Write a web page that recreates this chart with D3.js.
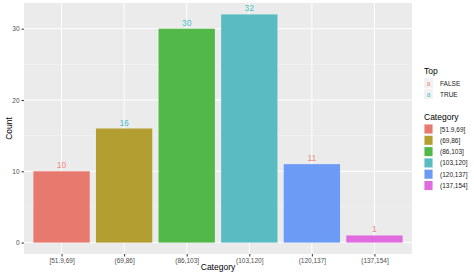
<!DOCTYPE html>
<html>
<head>
<meta charset="utf-8">
<script src="https://cdn.jsdelivr.net/npm/d3@7"></script>
<style>
  body { margin: 0; background: #fff; }
  text { font-family: "Liberation Sans", Arial, sans-serif; }
</style>
</head>
<body>
<div class="chart"></div>
<script>
// chart data
var categories = ["[51.9,69]", "(69,86]", "(86,103]", "(103,120]", "(120,137]", "(137,154]"];
var counts = [10, 16, 30, 32, 11, 1];
var topFlags = [false, true, true, true, false, false];
var yTicks = [0, 10, 20, 30];

var fillColors = ["#E8796F", "#B39E31", "#53B84A", "#58BCC2", "#6B9BF5", "#E06BDF"];
var topColors = { "FALSE": "#F08A82", "TRUE": "#4DBFC6" };

var svgWidth = 474, svgHeight = 274;
var margin = { top: 3, right: 62, bottom: 20, left: 24 };
var width = svgWidth - margin.left - margin.right;
var height = svgHeight - margin.top - margin.bottom;

var svg = d3.select(".chart").append("svg")
  .attr("width", svgWidth)
  .attr("height", svgHeight);

var chartGroup = svg.append("g")
  .attr("transform", `translate(${margin.left}, ${margin.top})`);

// ggplot-style discrete scale: 0.6 units padding each side
var n = categories.length;
var xLinear = d3.scaleLinear().domain([0.4, n + 0.6]).range([0, width]);
var xPos = function (i) { return xLinear(i + 1); };
var step = xLinear(2) - xLinear(1);

var yMax = d3.max(counts);
var yScale = d3.scaleLinear()
  .domain([-0.05 * yMax, yMax * 1.05])
  .range([height, 0]);

// panel background
chartGroup.append("rect")
  .attr("width", width)
  .attr("height", height)
  .attr("fill", "#EBEBEB");

// minor gridlines
[5, 15, 25].forEach(function (v) {
  chartGroup.append("line")
    .attr("x1", 0).attr("x2", width)
    .attr("y1", yScale(v)).attr("y2", yScale(v))
    .attr("stroke", "#F7F7F7").attr("stroke-width", 0.5);
});

// major gridlines
yTicks.forEach(function (v) {
  chartGroup.append("line")
    .attr("x1", 0).attr("x2", width)
    .attr("y1", yScale(v)).attr("y2", yScale(v))
    .attr("stroke", "#fff").attr("stroke-width", 1);
});
categories.forEach(function (c, i) {
  chartGroup.append("line")
    .attr("x1", xPos(i)).attr("x2", xPos(i))
    .attr("y1", 0).attr("y2", height)
    .attr("stroke", "#fff").attr("stroke-width", 1);
});

// bars
var barData = categories.map(function (c, i) {
  return { cat: c, count: counts[i], top: topFlags[i], color: fillColors[i], i: i };
});

chartGroup.selectAll(".bar")
  .data(barData)
  .enter()
  .append("rect")
  .attr("class", "bar")
  .attr("x", d => xPos(d.i) - step * 0.45)
  .attr("width", step * 0.9)
  .attr("y", d => yScale(d.count))
  .attr("height", d => yScale(0) - yScale(d.count))
  .attr("fill", d => d.color);

// value labels
chartGroup.selectAll(".lbl")
  .data(barData)
  .enter()
  .append("text")
  .attr("class", "lbl")
  .attr("x", d => xPos(d.i))
  .attr("y", d => yScale(d.count) - 3)
  .attr("text-anchor", "middle")
  .attr("font-size", "8.5px")
  .attr("fill", d => d.top ? topColors.TRUE : topColors.FALSE)
  .text(d => d.count);

// axes
var leftAxis = d3.axisLeft(yScale).tickValues(yTicks).tickSize(2.5).tickPadding(2);
var yAxisG = chartGroup.append("g").call(leftAxis);
yAxisG.select(".domain").remove();
yAxisG.selectAll("line").attr("stroke", "#333");
yAxisG.selectAll("text").attr("fill", "#4D4D4D").attr("font-size", "6.5px");

var bottomAxis = d3.axisBottom(xLinear)
  .tickValues(d3.range(1, n + 1))
  .tickFormat(d => categories[d - 1])
  .tickSize(2.5).tickPadding(2);
var xAxisG = chartGroup.append("g")
  .attr("transform", `translate(0, ${height})`)
  .call(bottomAxis);
xAxisG.select(".domain").remove();
xAxisG.selectAll("line").attr("stroke", "#333");
xAxisG.selectAll("text").attr("fill", "#4D4D4D").attr("font-size", "6.5px");

// axis titles
svg.append("text")
  .attr("x", margin.left + width / 2)
  .attr("y", 270)
  .attr("text-anchor", "middle")
  .attr("font-size", "8.5px")
  .attr("fill", "#000")
  .text("Category");

svg.append("text")
  .attr("transform", `translate(12, ${margin.top + height / 2}) rotate(-90)`)
  .attr("text-anchor", "middle")
  .attr("font-size", "8.5px")
  .attr("fill", "#000")
  .text("Count");

// legend: Top
var legX = 424;
var legend = svg.append("g");
legend.append("text")
  .attr("x", legX).attr("y", 74)
  .attr("font-size", "8.5px").attr("fill", "#000")
  .text("Top");

["FALSE", "TRUE"].forEach(function (k, i) {
  var y = 78 + i * 11;
  legend.append("rect")
    .attr("x", legX).attr("y", y)
    .attr("width", 9).attr("height", 10)
    .attr("fill", "#F2F2F2");
  legend.append("text")
    .attr("x", legX + 4.5).attr("y", y + 7.5)
    .attr("text-anchor", "middle")
    .attr("font-size", "6.5px")
    .attr("fill", topColors[k])
    .text("a");
  legend.append("text")
    .attr("x", legX + 16).attr("y", y + 7.5)
    .attr("font-size", "6.5px").attr("fill", "#1A1A1A")
    .text(k);
});

// legend: Category
legend.append("text")
  .attr("x", legX).attr("y", 120)
  .attr("font-size", "8.5px").attr("fill", "#000")
  .text("Category");

categories.forEach(function (c, i) {
  var y = 124 + i * 11.3;
  legend.append("rect")
    .attr("x", legX).attr("y", y)
    .attr("width", 9).attr("height", 10)
    .attr("fill", "#F2F2F2");
  legend.append("rect")
    .attr("x", legX + 0.5).attr("y", y + 0.5)
    .attr("width", 8).attr("height", 9)
    .attr("fill", fillColors[i]);
  legend.append("text")
    .attr("x", legX + 16).attr("y", y + 7.5)
    .attr("font-size", "6.5px").attr("fill", "#1A1A1A")
    .text(c);
});
</script>
</body>
</html>
